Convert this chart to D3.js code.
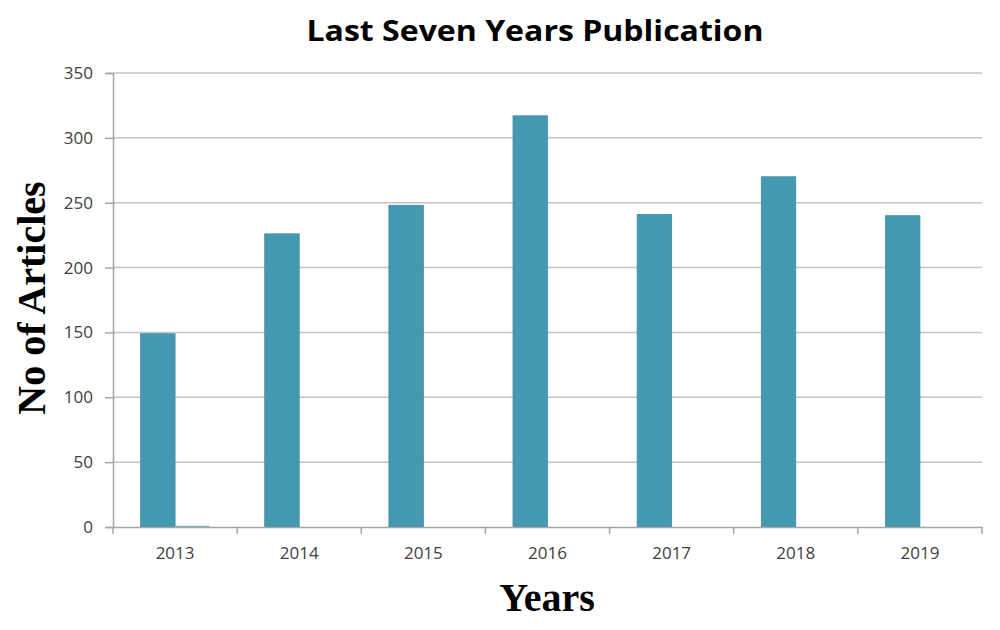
<!DOCTYPE html>
<html><head><meta charset="utf-8">
<script src="https://cdn.jsdelivr.net/npm/d3@7"></script>
<style>body{margin:0;background:#fff}</style>
</head><body>
<svg id="c" width="1000" height="630"></svg>
<script>
const years = ["2013","2014","2015","2016","2017","2018","2019"];
const articles = [149, 226, 248, 317, 241, 270, 240];
const series2 = [1, 0, 0, 0, 0, 0, 0];
const yTicks = [0, 50, 100, 150, 200, 250, 300, 350];
const seriesNames = ["Articles", "Other"];

const svg = d3.select("#c");
const m = {l:113, r:982, t:73, b:527};
const x = d3.scaleBand().domain(years).range([m.l, m.r]).padding(0);
const xi = d3.scaleBand().domain(seriesNames).range([0, x.bandwidth()]).paddingInner(0).paddingOuter(0.8);
const y = d3.scaleLinear().domain([0, 350]).range([m.b, m.t]);

// gridlines
svg.append("g").selectAll("line").data(yTicks.filter(d=>d>0)).join("line")
  .attr("x1", m.l).attr("x2", m.r).attr("y1", d=>y(d)).attr("y2", d=>y(d))
  .attr("stroke", "#c4c4c4").attr("stroke-width", 1.5);

// bars
const rows = years.map((yr,i)=>({yr, vals:[{k:seriesNames[0], v:articles[i]},{k:seriesNames[1], v:series2[i]}]}));
const g = svg.append("g").selectAll("g").data(rows).join("g")
  .attr("transform", d=>`translate(${x(d.yr)},0)`);
g.selectAll("rect").data(d=>d.vals.filter(e=>e.v>0)).join("rect")
  .attr("x", d=>xi(d.k)).attr("width", xi.bandwidth())
  .attr("y", d=>y(d.v)).attr("height", d=>y(0)-y(d.v))
  .attr("fill", d=>d.k===seriesNames[0] ? "#4498b0" : "#7fbdd0")
  .attr("stroke", d=>d.k===seriesNames[0] ? "#3d8ea5" : "none").attr("stroke-width", 0.8);

// y axis
const yAxis = d3.axisLeft(y).tickValues(yTicks).tickSize(8).tickPadding(12);
const ya = svg.append("g").attr("transform", `translate(${m.l},0)`).call(yAxis);
ya.select(".domain").attr("stroke", "#a6a6a6").attr("stroke-width", 1.5);
ya.selectAll(".tick line").attr("stroke", "#a6a6a6").attr("stroke-width", 1.5);
ya.selectAll("text").attr("font-family", "Open Sans, sans-serif").attr("font-size", 17).attr("fill", "#404040");

// x axis
const xAxis = d3.axisBottom(x).tickSize(0).tickPadding(20);
const xa = svg.append("g").attr("transform", `translate(0,${m.b})`).call(xAxis);
xa.select(".domain").attr("stroke", "#a6a6a6").attr("stroke-width", 1.5);
xa.selectAll("text").attr("font-family", "Open Sans, sans-serif").attr("font-size", 17).attr("fill", "#404040");
// boundary ticks
const bounds = years.map(d=>x(d)).concat([x(years[years.length-1]) + x.bandwidth()]);
xa.append("g").selectAll("line").data(bounds).join("line")
  .attr("x1", d=>d).attr("x2", d=>d).attr("y1", 0).attr("y2", 7)
  .attr("stroke", "#a6a6a6").attr("stroke-width", 1.5);

// title
svg.append("text").attr("x", 535).attr("y", 41).attr("text-anchor", "middle")
  .attr("font-family", "Open Sans, sans-serif").attr("font-weight", "bold").attr("font-size", 29)
  .attr("fill", "#000").attr("textLength", 457).attr("lengthAdjust", "spacingAndGlyphs")
  .text("Last Seven Years Publication");

// axis titles
svg.append("text").attr("transform", "translate(45,298) rotate(-90)").attr("text-anchor", "middle")
  .attr("font-family", "Liberation Serif, serif").attr("font-weight", "bold").attr("font-size", 40)
  .attr("fill", "#000").text("No of Articles");
svg.append("text").attr("x", 547).attr("y", 611).attr("text-anchor", "middle")
  .attr("font-family", "Liberation Serif, serif").attr("font-weight", "bold").attr("font-size", 40)
  .attr("fill", "#000").text("Years");
</script>
</body></html>
